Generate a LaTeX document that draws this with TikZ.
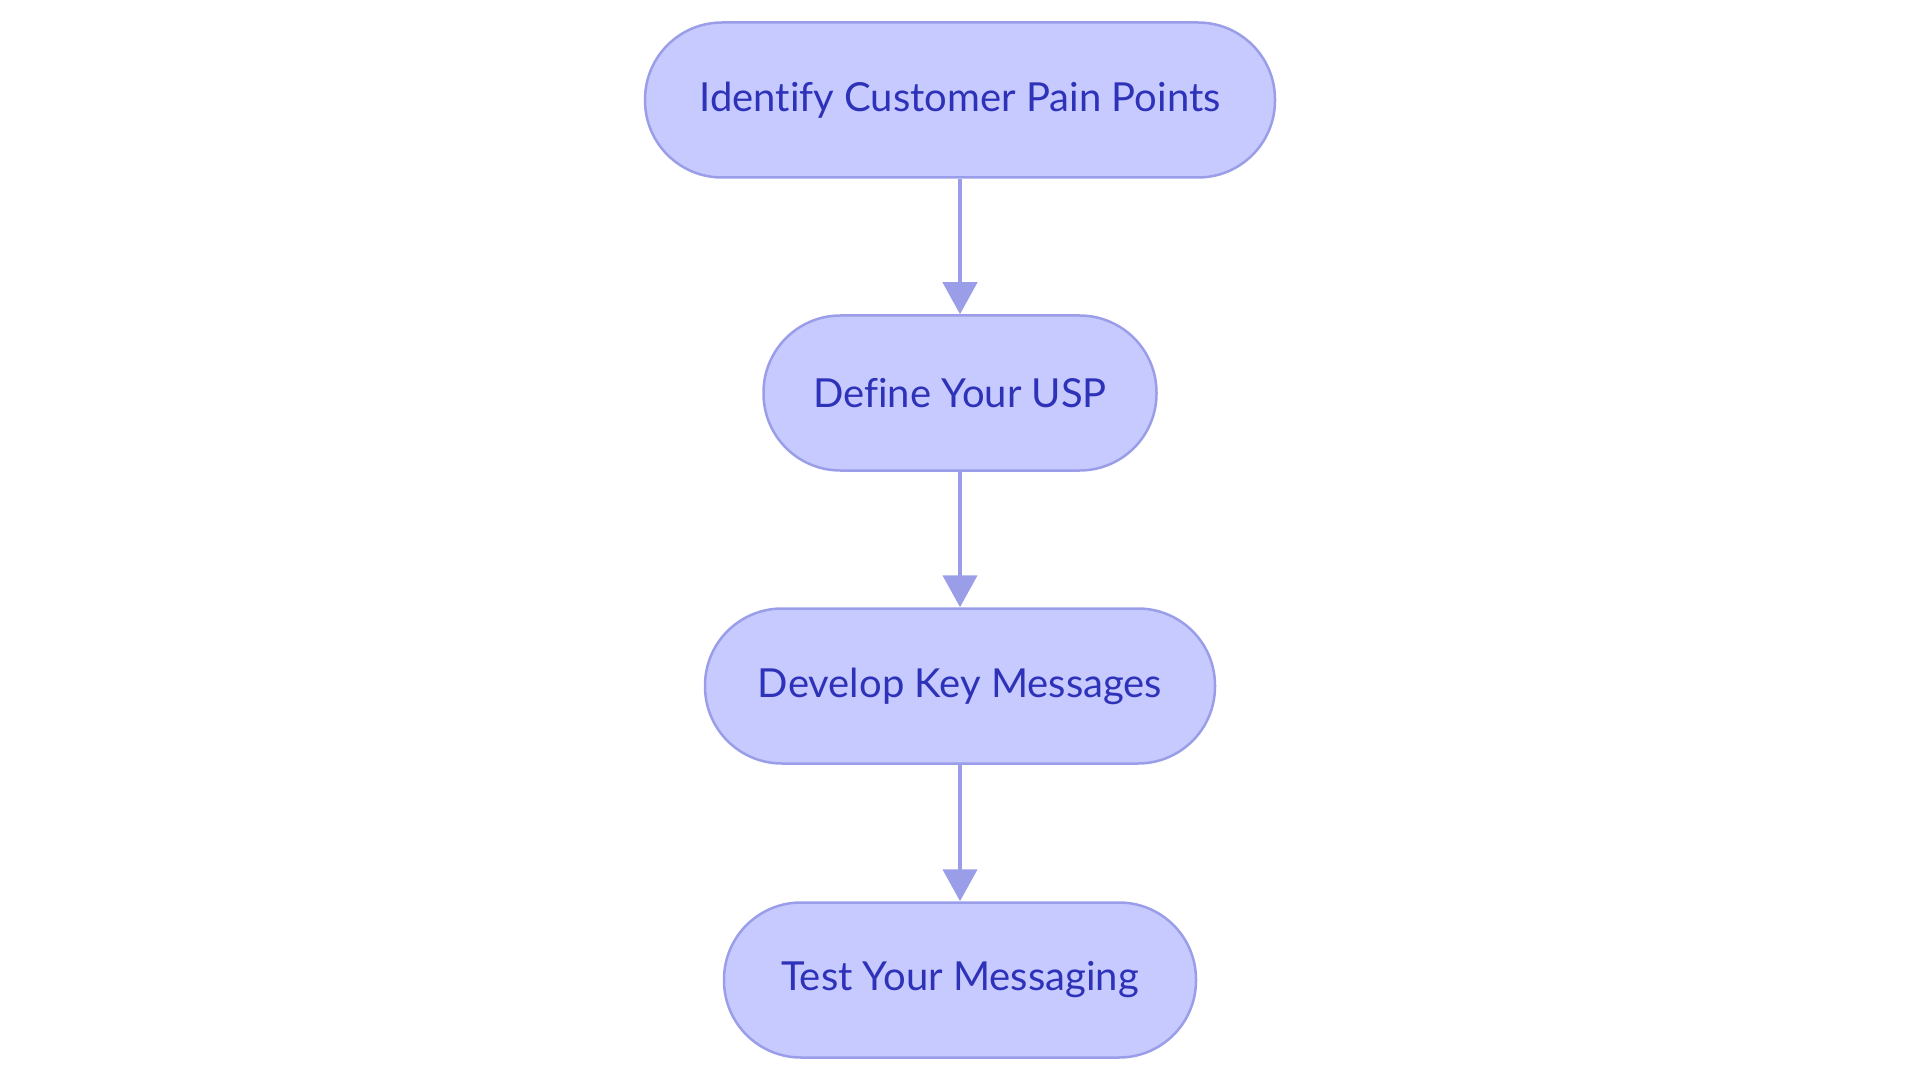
\documentclass[tikz,border=0pt]{standalone}
\usepackage{fontspec}
\setmainfont[Ligatures=NoCommon]{Lato}
\usetikzlibrary{arrows.meta}
\definecolor{boxfill}{HTML}{C7CAFE}
\definecolor{boxline}{HTML}{9A9EE8}
\definecolor{boxtext}{HTML}{2E32B8}
\definecolor{arrowcol}{HTML}{9A9EE8}
\begin{document}
\begin{tikzpicture}[x=1pt,y=-1pt,
  stepbox/.style={draw=boxline, fill=boxfill, line width=2.5pt, rounded corners=77pt,
    minimum height=155pt, inner sep=0pt, text=boxtext, font=\fontsize{40}{48}\selectfont},
  flow/.style={draw=arrowcol, line width=4.5pt, -{Triangle[length=32pt,width=34pt]}}]
\useasboundingbox (0,0) rectangle (1920,1083);
\node[stepbox, minimum width=630pt] (a) at (960,100) {Identify Customer Pain Points};
\node[stepbox, minimum width=393pt] (b) at (960,393) {Define Your USP};
\node[stepbox, minimum width=510pt] (c) at (960,686) {Develop Key Messages};
\node[stepbox, minimum width=472pt] (d) at (960,980) {Test Your Messaging};
\draw[flow] (a) -- (b);
\draw[flow] (b) -- (c);
\draw[flow] (c) -- (d);
\end{tikzpicture}
\end{document}
